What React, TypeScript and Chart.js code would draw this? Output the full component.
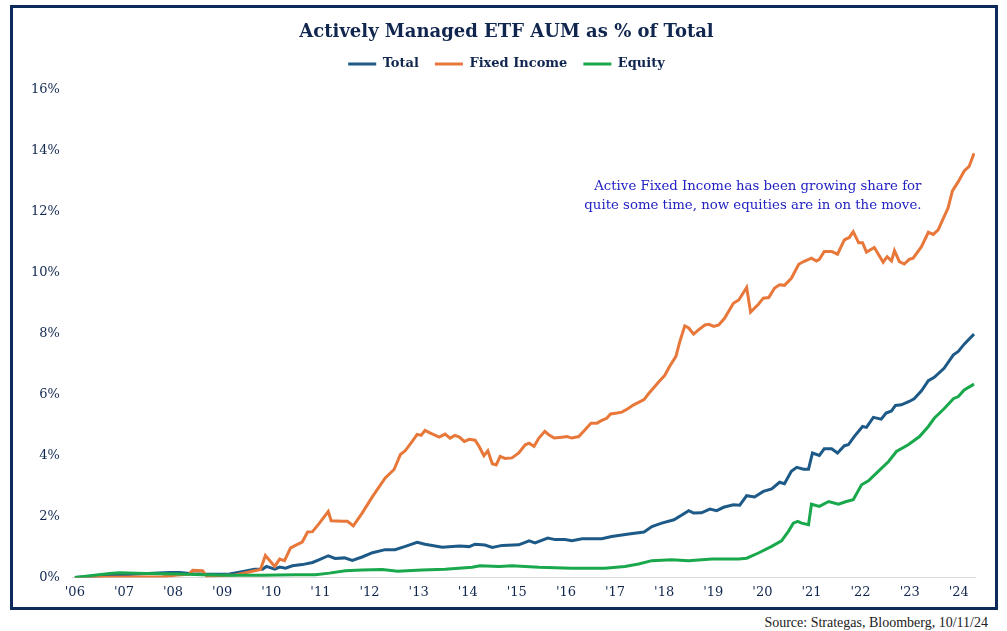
import React, { useEffect, useRef } from "react";
import { Chart, registerables } from "chart.js";

Chart.register(...registerables);

// x = years since the '06 tick (monthly data, labels every 12 points)
const xTickLabels = ["'06", "'07", "'08", "'09", "'10", "'11", "'12", "'13", "'14", "'15", "'16", "'17", "'18", "'19", "'20", "'21", "'22", "'23", "'24"];

const totalX = [0, 0.57, 1.38, 1.93, 2.13, 2.40, 2.66, 3.15, 3.35, 3.66, 3.82, 3.90, 4.07, 4.17, 4.29, 4.43, 4.63, 4.84, 4.98, 5.16, 5.30, 5.49, 5.65, 5.85, 6.06, 6.32, 6.52, 6.73, 6.97, 7.13, 7.48, 7.83, 8.03, 8.15, 8.35, 8.50, 8.70, 9.04, 9.25, 9.37, 9.63, 9.78, 9.98, 10.12, 10.33, 10.73, 10.93, 11.28, 11.59, 11.75, 11.95, 12.20, 12.36, 12.50, 12.60, 12.76, 12.93, 13.07, 13.21, 13.41, 13.54, 13.68, 13.84, 14.02, 14.19, 14.35, 14.45, 14.59, 14.70, 14.84, 14.94, 15.02, 15.16, 15.26, 15.41, 15.53, 15.67, 15.75, 15.87, 16.04, 16.12, 16.26, 16.42, 16.52, 16.63, 16.71, 16.83, 16.99, 17.09, 17.24, 17.38, 17.50, 17.70, 17.89, 17.99, 18.11, 18.31];
const totalY = [0, 0.05, 0.12, 0.16, 0.16, 0.12, 0.10, 0.11, 0.17, 0.27, 0.27, 0.36, 0.27, 0.34, 0.30, 0.38, 0.42, 0.49, 0.58, 0.71, 0.62, 0.64, 0.56, 0.67, 0.81, 0.91, 0.91, 1.02, 1.15, 1.09, 0.99, 1.03, 1.01, 1.09, 1.06, 0.98, 1.05, 1.07, 1.20, 1.13, 1.29, 1.24, 1.24, 1.20, 1.27, 1.27, 1.34, 1.42, 1.49, 1.67, 1.78, 1.89, 2.05, 2.19, 2.11, 2.12, 2.24, 2.19, 2.30, 2.38, 2.37, 2.68, 2.64, 2.82, 2.90, 3.12, 3.07, 3.48, 3.61, 3.55, 3.55, 4.08, 4.00, 4.22, 4.22, 4.08, 4.32, 4.35, 4.62, 4.95, 4.92, 5.25, 5.19, 5.39, 5.46, 5.64, 5.66, 5.77, 5.86, 6.12, 6.45, 6.56, 6.86, 7.30, 7.41, 7.65, 7.98];

const fixedIncomeX = [0, 1.79, 2.09, 2.32, 2.40, 2.60, 2.68, 3.27, 3.78, 3.88, 4.07, 4.17, 4.27, 4.39, 4.49, 4.63, 4.74, 4.84, 4.98, 5.16, 5.22, 5.45, 5.55, 5.67, 5.85, 6.06, 6.32, 6.50, 6.63, 6.73, 6.87, 6.97, 7.05, 7.13, 7.24, 7.42, 7.54, 7.64, 7.74, 7.83, 7.93, 8.03, 8.15, 8.23, 8.33, 8.41, 8.50, 8.58, 8.66, 8.76, 8.90, 9.04, 9.17, 9.25, 9.35, 9.45, 9.57, 9.65, 9.76, 9.92, 10.02, 10.12, 10.26, 10.39, 10.51, 10.63, 10.73, 10.83, 10.91, 11.04, 11.14, 11.26, 11.38, 11.48, 11.59, 11.69, 11.81, 11.91, 12.01, 12.11, 12.24, 12.32, 12.42, 12.50, 12.60, 12.70, 12.83, 12.91, 13.01, 13.11, 13.23, 13.41, 13.52, 13.68, 13.76, 13.92, 14.02, 14.13, 14.25, 14.35, 14.45, 14.59, 14.74, 14.84, 15.00, 15.10, 15.16, 15.26, 15.41, 15.53, 15.67, 15.77, 15.85, 15.96, 16.04, 16.12, 16.28, 16.46, 16.54, 16.63, 16.69, 16.79, 16.89, 16.99, 17.07, 17.24, 17.38, 17.48, 17.58, 17.68, 17.78, 17.87, 17.99, 18.11, 18.21, 18.31];
const fixedIncomeY = [0, 0.02, 0.08, 0.10, 0.23, 0.22, 0.05, 0.08, 0.26, 0.72, 0.36, 0.60, 0.55, 0.96, 1.05, 1.16, 1.49, 1.50, 1.78, 2.16, 1.86, 1.84, 1.84, 1.69, 2.11, 2.65, 3.26, 3.54, 4.03, 4.16, 4.46, 4.69, 4.66, 4.82, 4.73, 4.60, 4.70, 4.57, 4.66, 4.60, 4.46, 4.53, 4.50, 4.30, 3.99, 4.15, 3.73, 3.69, 3.97, 3.90, 3.92, 4.08, 4.35, 4.40, 4.30, 4.57, 4.79, 4.68, 4.57, 4.60, 4.62, 4.57, 4.62, 4.84, 5.06, 5.06, 5.15, 5.22, 5.36, 5.39, 5.42, 5.53, 5.66, 5.74, 5.83, 6.04, 6.26, 6.45, 6.62, 6.92, 7.25, 7.74, 8.25, 8.18, 7.98, 8.12, 8.28, 8.30, 8.23, 8.28, 8.50, 8.99, 9.10, 9.51, 8.70, 8.96, 9.16, 9.18, 9.49, 9.60, 9.58, 9.81, 10.27, 10.36, 10.47, 10.38, 10.43, 10.69, 10.69, 10.60, 11.07, 11.15, 11.34, 10.98, 10.98, 10.67, 10.82, 10.34, 10.52, 10.38, 10.72, 10.36, 10.28, 10.43, 10.47, 10.85, 11.32, 11.25, 11.40, 11.76, 12.11, 12.68, 12.98, 13.33, 13.48, 13.91];

const equityX = [0, 0.71, 0.91, 1.44, 2.13, 2.60, 3.15, 3.82, 4.49, 4.90, 5.18, 5.51, 5.85, 6.26, 6.57, 7.07, 7.54, 8.09, 8.25, 8.64, 8.90, 9.45, 10.12, 10.79, 11.20, 11.48, 11.75, 12.15, 12.50, 12.97, 13.52, 13.68, 13.92, 14.19, 14.39, 14.53, 14.63, 14.72, 14.80, 14.94, 15.00, 15.16, 15.35, 15.55, 15.71, 15.85, 16.02, 16.16, 16.36, 16.57, 16.73, 16.97, 17.20, 17.38, 17.50, 17.70, 17.89, 17.99, 18.11, 18.31];
const equityY = [0, 0.13, 0.15, 0.13, 0.11, 0.09, 0.07, 0.07, 0.09, 0.09, 0.14, 0.22, 0.24, 0.26, 0.20, 0.24, 0.27, 0.33, 0.38, 0.36, 0.38, 0.33, 0.30, 0.30, 0.36, 0.44, 0.55, 0.58, 0.55, 0.60, 0.60, 0.63, 0.80, 1.02, 1.20, 1.51, 1.78, 1.84, 1.78, 1.73, 2.40, 2.33, 2.49, 2.40, 2.49, 2.55, 3.04, 3.17, 3.48, 3.80, 4.13, 4.35, 4.62, 4.95, 5.22, 5.53, 5.86, 5.93, 6.15, 6.34];

const seriesNames = ["Total", "Fixed Income", "Equity"];
const seriesColors = ["#1e5a87", "#e8773a", "#19a84c"];

const annotationLines = [
  "Active Fixed Income has been growing share for",
  "quite some time, now equities are in on the move.",
];
const annotationRightX = 17.24;
const annotationLineY = [12.82, 12.2];

const NAVY = "#10264f";
const SERIF = "'DejaVu Serif', serif";

function zip(xs: number[], ys: number[]) {
  const n = Math.min(xs.length, ys.length);
  const out: { x: number; y: number }[] = [];
  for (let i = 0; i < n; i++) out.push({ x: xs[i], y: ys[i] });
  return out;
}

const annotationPlugin = {
  id: "noteText",
  afterDatasetsDraw(chart: any) {
    const { ctx, scales } = chart;
    const xs = scales.x;
    const ys = scales.y;
    ctx.save();
    ctx.font = `13.3px ${SERIF}`;
    ctx.fillStyle = "#2222c2";
    ctx.textAlign = "right";
    ctx.textBaseline = "middle";
    annotationLines.forEach((t, i) => {
      ctx.fillText(t, xs.getPixelForValue(annotationRightX), ys.getPixelForValue(annotationLineY[i]));
    });
    ctx.restore();
  },
};

const legendSpacer = {
  id: "legendSpacer",
  beforeInit(chart: any) {
    const legend = chart.legend;
    if (!legend) return;
    const orig = legend.fit;
    legend.fit = function () {
      orig.call(this);
      this.height += 9;
    };
  },
};

export default function App() {
  const ref = useRef<HTMLCanvasElement | null>(null);

  useEffect(() => {
    if (!ref.current) return;
    const dataSets = [zip(totalX, totalY), zip(fixedIncomeX, fixedIncomeY), zip(equityX, equityY)];
    const chart = new Chart(ref.current, {
      type: "line",
      data: {
        datasets: dataSets.map((d, i) => ({
          label: seriesNames[i],
          data: d,
          borderColor: seriesColors[i],
          backgroundColor: seriesColors[i],
          borderWidth: 3,
          pointRadius: 0,
          tension: 0,
          fill: false,
          yAxisID: "y",
          order: i === 2 ? 0 : i === 1 ? 1 : 2,
        })),
      },
      options: {
        animation: false,
        responsive: true,
        maintainAspectRatio: false,
        layout: { padding: { left: 5, right: 0, top: 0, bottom: 0 } },
        plugins: {
          title: {
            display: true,
            text: "Actively Managed ETF AUM as % of Total",
            color: NAVY,
            font: { family: SERIF, size: 18, weight: "bold" },
            padding: { top: 14, bottom: -2 },
          },
          legend: {
            display: true,
            position: "top",
            labels: {
              boxWidth: 28,
              boxHeight: 3,
              padding: 16,
              color: NAVY,
              font: { family: SERIF, size: 13, weight: "bold" },
              generateLabels: (c: any) =>
                c.data.datasets.map((ds: any, i: number) => ({
                  text: ds.label,
                  fillStyle: ds.borderColor,
                  strokeStyle: ds.borderColor,
                  lineWidth: 0,
                  hidden: false,
                  datasetIndex: i,
                  fontColor: NAVY,
                })),
            },
          },
          tooltip: { enabled: false },
        },
        scales: {
          x: {
            type: "linear",
            min: -0.04,
            max: 18.33,
            grid: { display: false, drawTicks: false },
            border: { display: true, color: "#d9d9d9", width: 1 },
            afterBuildTicks: (axis: any) => {
              axis.ticks = xTickLabels.map((_, i) => ({ value: i }));
            },
            ticks: {
              autoSkip: false,
              maxRotation: 0,
              padding: 7,
              color: NAVY,
              font: { family: SERIF, size: 13 },
              callback: (v: any) => xTickLabels[Math.round(Number(v))] ?? "",
            },
          },
          y: {
            position: "left",
            min: 0,
            max: 16,
            grid: { display: false, drawTicks: false },
            border: { display: false },
            ticks: {
              stepSize: 2,
              padding: 13,
              color: NAVY,
              font: { family: SERIF, size: 13 },
              callback: (v: any) => `${v}%`,
            },
          },
          spacer: {
            position: "right",
            display: true,
            grid: { display: false, drawTicks: false },
            border: { display: false },
            ticks: { display: false },
            afterFit: (s: any) => {
              s.width = 20;
            },
          },
        },
      },
      plugins: [annotationPlugin, legendSpacer],
    } as any);
    return () => chart.destroy();
  }, []);

  return (
    <>
      <div
        style={{
          position: "absolute",
          left: 10,
          top: 5,
          width: 982,
          height: 599,
          border: "3px solid #0e2a5a",
          background: "#fff",
        }}
      >
        <div style={{ position: "relative", width: 982, height: 599 }}>
          <canvas ref={ref} />
        </div>
      </div>
      <div
        style={{
          position: "absolute",
          right: 19,
          top: 615,
          fontFamily: "'Liberation Serif', serif",
          fontSize: 14,
          lineHeight: "16px",
          color: "#222",
          whiteSpace: "nowrap",
        }}
      >
        Source: Strategas, Bloomberg, 10/11/24
      </div>
    </>
  );
}
